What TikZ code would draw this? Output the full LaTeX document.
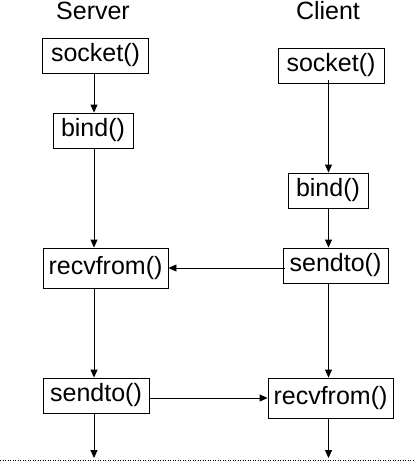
\documentclass[tikz,border=0pt]{standalone}
\usepackage{fontspec}
\setmainfont{Liberation Sans}
\usetikzlibrary{arrows.meta}
\begin{document}
\begin{tikzpicture}[x=1pt,y=-1pt,
  fn/.style={draw, line width=0.9pt, inner sep=0pt, font=\fontsize{25}{28}\selectfont, minimum height=35pt},
  lbl/.style={inner sep=0pt, font=\fontsize{25}{28}\selectfont},
  flow/.style={line width=0.9pt, -{Triangle[length=8pt,width=7pt]}}]
\useasboundingbox (0,0) rectangle (414,461);
\node[lbl] (server) at (93,11) {Server};
\node[lbl] (client) at (328,11) {Client};
\node[fn, minimum width=106pt] (ssock) at (95.5,55.5) {socket()};
\node[fn, minimum width=80pt] (sbind) at (93,130.5) {bind()};
\node[fn, minimum width=125pt, minimum height=40pt] (srecv) at (105.5,268) {recvfrom()};
\node[fn, minimum width=106pt] (ssend) at (96,395.5) {sendto()};
\node[fn, minimum width=106pt] (csock) at (331,65.5) {socket()};
\node[fn, minimum width=80pt] (cbind) at (328,190.5) {bind()};
\node[fn, minimum width=105pt] (csend) at (335.5,265.5) {sendto()};
\node[fn, minimum width=125pt, minimum height=40pt] (crecv) at (330.5,398) {recvfrom()};
\coordinate (sx) at (94,0);
\coordinate (cx) at (328.5,0);
\coordinate (send) at (94,458);
\coordinate (cend) at (328.5,458);
\coordinate (dl) at (0,460);
\coordinate (dr) at (414,460);
\draw[flow] (sx |- ssock.south) -- (sx |- sbind.north);
\draw[flow] (sx |- sbind.south) -- (sx |- srecv.north);
\draw[flow] (sx |- srecv.south) -- (sx |- ssend.north);
\draw[flow] (sx |- ssend.south) -- (send);
\draw[flow] ([yshift=3pt]cx |- csock.south) -- (cx |- cbind.north);
\draw[flow] (cx |- cbind.south) -- (cx |- csend.north);
\draw[flow] (cx |- csend.south) -- (cx |- crecv.north);
\draw[flow] (cx |- crecv.south) -- (cend);
\draw[flow] ([xshift=2pt]csend.west |- srecv) -- (srecv.east);
\draw[flow] ([xshift=1pt]ssend.east |- crecv) -- (crecv.west);
\draw[line width=0.5pt, dotted] (dl) -- (dr);
\end{tikzpicture}
\end{document}
